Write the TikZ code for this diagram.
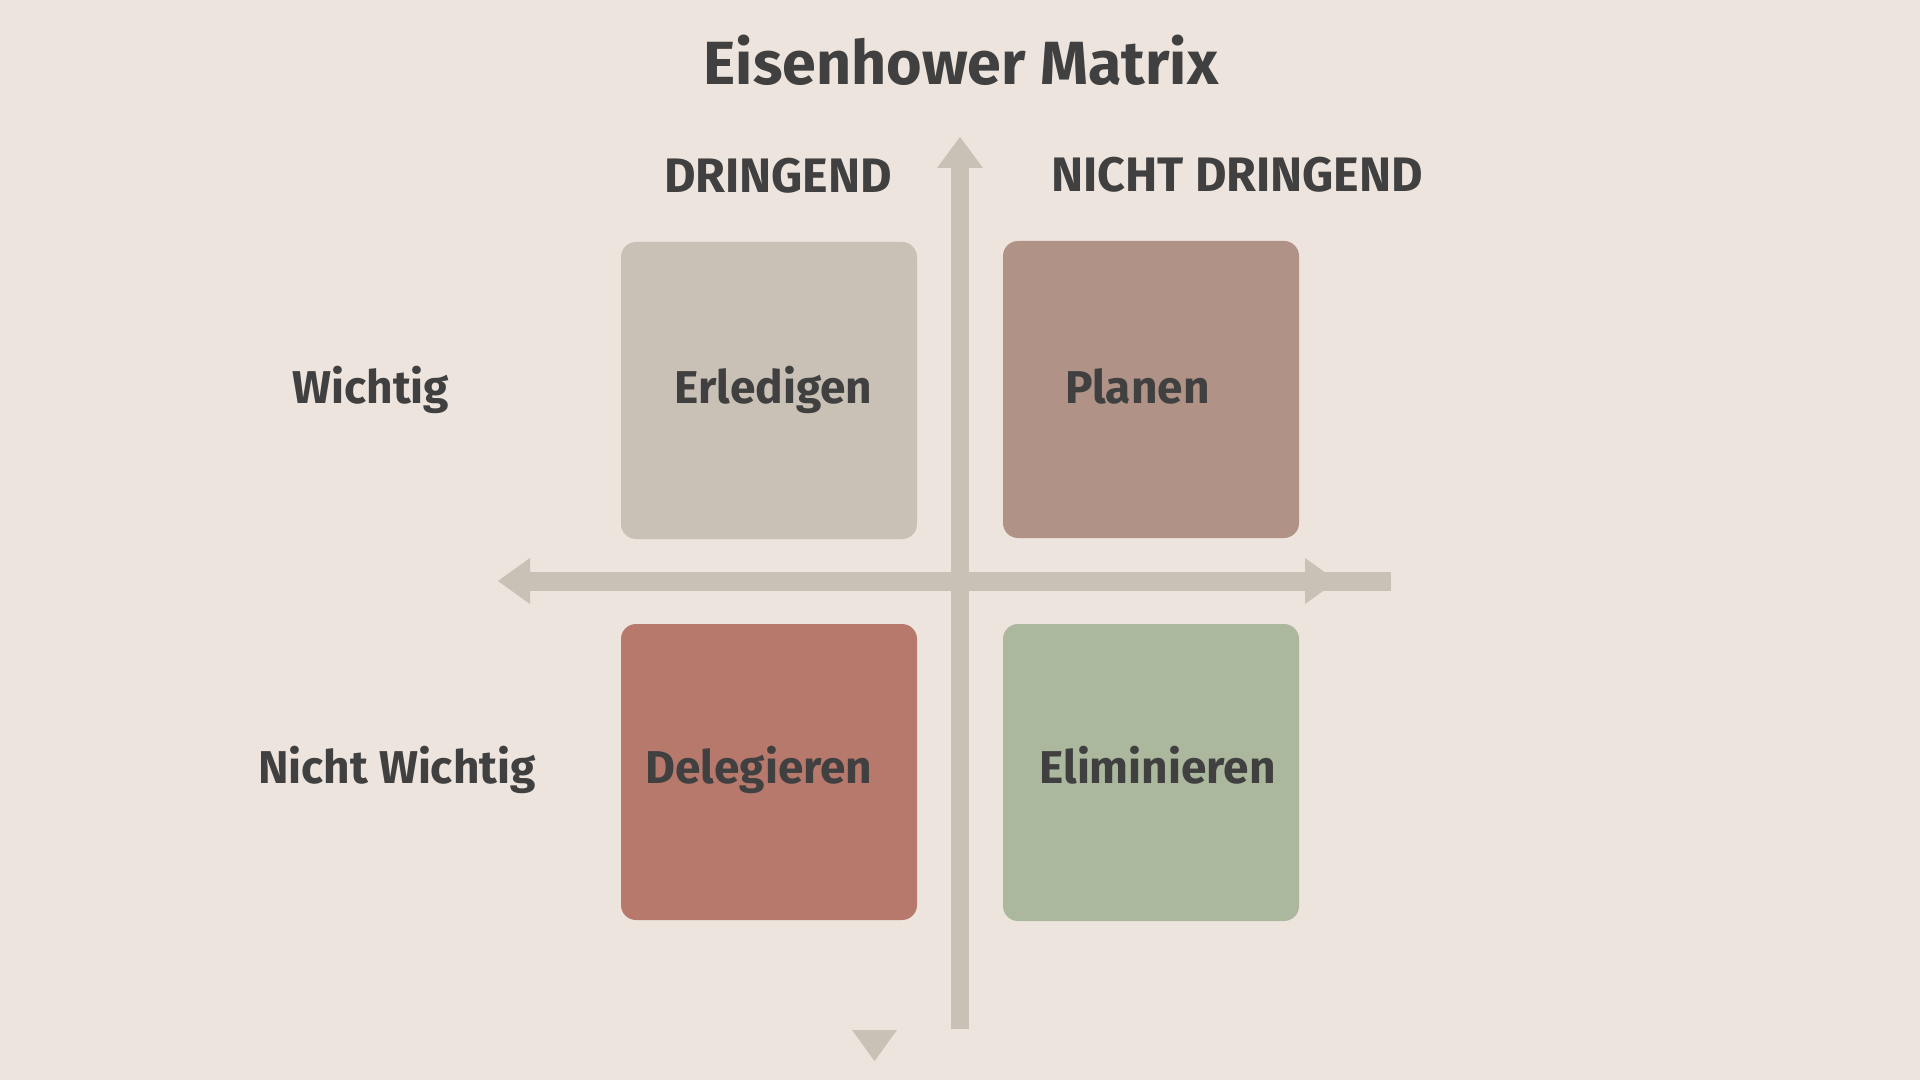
\documentclass[tikz,border=0pt]{standalone}
\usepackage{fontspec}
\setmainfont{Fira Sans}
\definecolor{bg}{RGB}{236,228,221}
\definecolor{txt}{RGB}{64,64,64}
\definecolor{axis}{RGB}{201,192,182}
\definecolor{cErl}{RGB}{201,192,182}
\definecolor{cPla}{RGB}{176,146,134}
\definecolor{cDel}{RGB}{184,121,109}
\definecolor{cEli}{RGB}{171,184,157}
\tikzset{
  quad/.style={rounded corners=7.5pt},
  lbl/.style={anchor=base, text=txt, font=\fontsize{23}{27}\selectfont\bfseries, inner sep=0pt},
  head/.style={anchor=base, text=txt, font=\fontsize{24.2}{28}\selectfont\bfseries, inner sep=0pt},
  ttl/.style={anchor=base, text=txt, font=\fontsize{30.5}{36}\selectfont\bfseries, inner sep=0pt},
  ax/.style={fill=axis, draw=none}
}
\begin{document}
\begin{tikzpicture}[x=0.5pt,y=-0.5pt]
\useasboundingbox (0,0) rectangle (1920,1080);
\fill[bg] (0,0) rectangle (1920,1080);
% quadrants
\fill[cErl,quad] (621,242) rectangle (917,539);
\fill[cPla,quad] (1003,241) rectangle (1299,538);
\fill[cDel,quad] (621,624) rectangle (917,920);
\fill[cEli,quad] (1003,624) rectangle (1299,921);
% vertical axis
\fill[ax] (951,168) rectangle (969,1029);
\fill[ax] (960,137) -- (983,168) -- (937,168) -- cycle;
\fill[ax] (852,1030) -- (897,1030) -- (874.5,1061) -- cycle;
% horizontal axis
\fill[ax] (1305,558) -- (1337,581) -- (1305,604) -- cycle;
\fill[ax] (529,572) rectangle (1391,591);
\fill[ax] (498,581) -- (530,558) -- (530,604) -- cycle;
% texts
\node[ttl] (title) at (961,85) {Eisenhower Matrix};
\node[head] (dr) at (778,193) {DRINGEND};
\node[head] (ndr) at (1237,192) {NICHT DRINGEND};
\node[lbl] (wi) at (371,403) {Wichtig};
\node[lbl] (nwi) at (397,783) {Nicht Wichtig};
\node[lbl] (erl) at (773.5,403) {Erledigen};
\node[lbl] (pla) at (1137.5,403) {Planen};
\node[lbl] (del) at (759,783) {Delegieren};
\node[lbl] (eli) at (1157.6,783) {Eliminieren};
\end{tikzpicture}
\end{document}
